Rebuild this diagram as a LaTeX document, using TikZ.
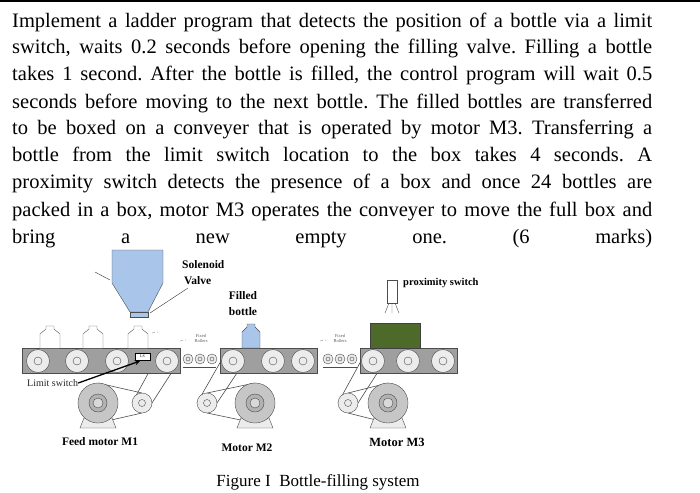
\documentclass[tikz,border=0pt]{standalone}
\usepackage{fontspec}
\setmainfont{Liberation Serif}
\begin{document}
\frenchspacing
\begin{tikzpicture}[x=1pt,y=-1pt,
  tl/.style={anchor=base west,inner sep=0pt,font=\fontsize{20.5}{22}\selectfont},
  lab/.style={inner sep=0pt,font=\fontsize{11.5}{12}\selectfont\bfseries},
  belt/.style={fill=gray!75,draw=gray!60!black},
  roll/.style={fill=gray!15,draw=gray!60!black},
  bot/.style={fill=white,draw=gray!70!black},
  drv/.style={draw=gray!60!black,line width=0.6pt}]
\definecolor{hop}{HTML}{A9C6EA}
\definecolor{boxg}{HTML}{4E6A2A}
\useasboundingbox (0,0) rectangle (700,492);
\fill[black] (0,0) rectangle (700,2);
% text block
\def\W{640pt}
\foreach \y/\t in {28/{Implement a ladder program that detects the position of a bottle via a limit},
 54/{switch, waits 0.2 seconds before opening the filling valve. Filling a bottle},
 81/{takes 1 second. After the bottle is filled, the control program will wait 0.5},
 108/{seconds before moving to the next bottle. The filled bottles are transferred},
 134/{to be boxed on a conveyer that is operated by motor M3. Transferring a},
 161/{bottle from the limit switch location to the box takes 4 seconds. A},
 188/{proximity switch detects the presence of a box and once 24 bottles are},
 216/{packed in a box, motor M3 operates the conveyer to move the full box and},
 243/{bring a new empty one. (6 marks)}}
 {\node[tl] at (12,\y) {\makebox[\W][s]{\t}};}
% hopper
\draw[fill=hop,draw=gray!60!black] (112,250) -- (163,250) -- (163,283) -- (148,312) -- (130,312) -- (112,283) -- cycle;
\draw[fill=hop,draw=gray!60!black] (130,312) rectangle (148,317);
\draw[gray!40!black] (95,272) -- (110,280);
\node[lab,anchor=west] (sol) at (182,265) {Solenoid};
\node[lab,anchor=west] (valve) at (184,281) {Valve};
\draw[gray!40!black] (188,288) -- (150,313);
\node[lab] (filled) at (243,296) {Filled};
\node[lab] (fb) at (243,312) {bottle};
% proximity switch
\draw[gray!60!black,fill=white] (387,280) rectangle (397,303);
\draw[gray!60!black] (389,303) -- (385,313) (395,303) -- (399,313) (392,303)--(392,313);
\node[lab,anchor=west,font=\fontsize{10.5}{11}\selectfont\bfseries] (prox) at (403,283) {proximity switch};
% drive belts
\foreach \a/\b in {167/142,233/207,373/348}{
  \draw[drv] (\a-12,361) -- (\b-10,403) (\a+12,361) -- (\b+10,403);}
\draw[drv] (98,383) -- (142,393) (98,423) -- (142,413);
\draw[drv] (207,393) -- (255,383) (207,413) -- (255,423);
\draw[drv] (348,393) -- (388,383) (348,413) -- (388,423);
% belts
\foreach \a/\b in {22/180,220/317,360/457}{\draw[belt] (\a,348) rectangle (\b,373);}
\foreach \x in {38,77,117,167,233,273,303,373,408,443}{
  \draw[roll] (\x,361) circle (11.5); \draw[roll] (\x,361) circle (4);}
% fixed rollers
\foreach \x in {188,200,212,328,340,352}{\draw[roll] (\x,359) circle (5); \draw[roll] (\x,359) circle (2);}
\draw[gray!60!black,thick] (183,367) -- (216,367) (323,367) -- (357,367);
\node[inner sep=0pt,font=\fontsize{4.5}{5}\selectfont,align=center,gray!70!black] (fr1) at (201,338) {Fixed\\Rollers};
\node[inner sep=0pt,font=\fontsize{4.5}{5}\selectfont,align=center,gray!70!black] (fr2) at (340,338) {Fixed\\Rollers};
\draw[gray,densely dashed] (180,341) -- (186,340) (320,341) -- (326,340);
\draw[gray,densely dashed] (152,333) -- (158,332);
% bottles
\foreach \x in {40,83,128}{
  \draw[bot] (\x,348) -- (\x,334) -- (\x+6,329) -- (\x+6,326) -- (\x+14,326) -- (\x+14,329) -- (\x+20,334) -- (\x+20,348);}
\draw[fill=hop,draw=gray!60!black] (242,348) -- (242,332) -- (247,327) -- (247,324) -- (255,324) -- (255,327) -- (260,332) -- (260,348) -- cycle;
\draw[gray!60!black,thick] (268,348) -- (310,348);
% box
\draw[fill=boxg,draw=gray!50!black] (370,323) rectangle (420,348);
% limit switch
\draw[fill=white,draw=black] (135,353) rectangle (150,360);
\node[inner sep=0pt,font=\fontsize{4}{4}\selectfont] (ls) at (142.5,356.5) {LS};
\node[inner sep=0pt,anchor=west,font=\fontsize{10}{11}\selectfont,gray!30!black] (lsl) at (27,383) {Limit switch};
\draw[-stealth,line width=1.3pt] (lsl.east) -- (140,361);
% motors
\foreach \c in {98,255,388}{
  \draw[fill=gray!15,draw=gray!60!black] (\c-14,418) -- (\c+14,418) -- (\c+18,428) -- (\c-18,428) -- cycle;
  \draw[fill=gray!45,draw=gray!60!black] (\c,403) circle (20);
  \draw[fill=gray!60,draw=gray!60!black] (\c,403) circle (9);
  \draw[fill=gray!30,draw=gray!60!black] (\c,403) circle (5);}
\foreach \p in {142,207,348}{
  \draw[roll] (\p,403) circle (10); \draw[roll] (\p,403) circle (3.5);}
\node[lab] (m1) at (100,442) {Feed motor M1};
\node[lab] (m2) at (247,448) {Motor M2};
\node[lab,font=\fontsize{12.5}{13}\selectfont\bfseries] (m3) at (397,442) {Motor M3};
\node[inner sep=0pt,font=\fontsize{17}{18}\selectfont] (cap) at (318,482) {Figure I\ \ Bottle-filling system};
\end{tikzpicture}
\end{document}
